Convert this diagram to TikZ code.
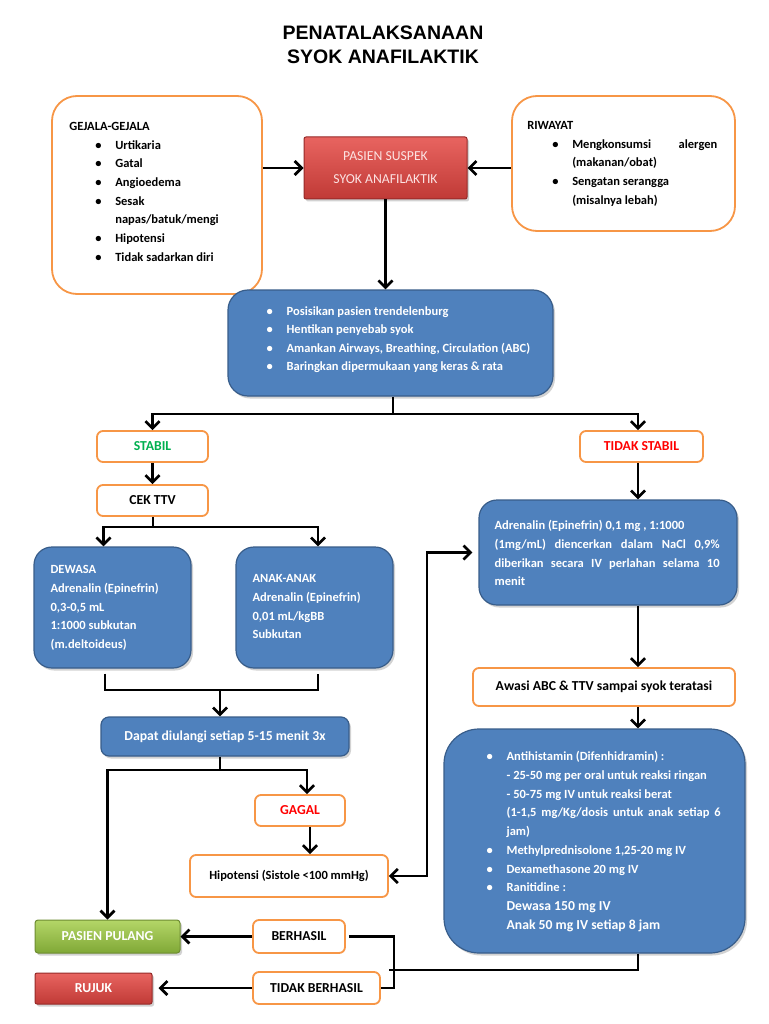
\documentclass[tikz,border=0pt]{standalone}
\usepackage{fontspec}
\setmainfont{Carlito}
\newfontfamily\headfont{Liberation Sans}
\usetikzlibrary{arrows.meta, positioning, calc, shadows}
\definecolor{orangeline}{RGB}{247,150,70}
\definecolor{bluefill}{RGB}{79,129,189}
\definecolor{blueline}{RGB}{56,93,138}
\definecolor{redtop}{RGB}{232,100,96}
\definecolor{redbot}{RGB}{192,58,54}
\definecolor{redline}{RGB}{150,42,40}
\definecolor{greentop}{RGB}{180,214,104}
\definecolor{greenbot}{RGB}{128,168,54}
\definecolor{greenline}{RGB}{110,140,50}
\definecolor{okgreen}{RGB}{0,176,80}
\definecolor{failred}{RGB}{255,0,0}
\definecolor{paletext}{RGB}{252,226,226}
\newcommand{\itm}{\makebox[20pt][l]{\textbullet}}

\begin{document}
\begin{tikzpicture}[x=1pt, y=-1pt,
    obox/.style={rectangle, rounded corners=6pt, draw=orangeline, line width=1.8pt, fill=white, inner sep=0pt, font=\fontsize{13.7}{16}\selectfont\bfseries},
    bbox/.style={rectangle, rounded corners=18pt, draw=blueline, line width=1.2pt, fill=bluefill, inner sep=0pt, drop shadow={shadow xshift=2pt, shadow yshift=-2.5pt, opacity=0.35}, text=white, font=\fontsize{13.7}{16}\selectfont\bfseries},
    rbox/.style={rectangle, rounded corners=2pt, draw=redline, line width=1pt, top color=redtop, bottom color=redbot, inner sep=0pt, drop shadow={shadow xshift=2pt, shadow yshift=-2.5pt, opacity=0.35}, text=paletext, font=\fontsize{13.7}{16}\selectfont},
    gbox/.style={rectangle, rounded corners=3pt, draw=greenline, line width=1pt, top color=greentop, bottom color=greenbot, inner sep=0pt, drop shadow={shadow xshift=2pt, shadow yshift=-2.5pt, opacity=0.35}, text=white, font=\fontsize{13.7}{16}\selectfont\bfseries},
    txt/.style={anchor=north west, inner sep=0pt, align=left, font=\fontsize{12.5}{18.7}\selectfont\bfseries},
    wtxt/.style={txt, text=white},
    lin/.style={line width=2.7pt},
    arr/.style={lin, -{Straight Barb[length=7pt, width=14pt]}},
    arrs/.style={lin, {Straight Barb[length=7pt, width=14pt]}-{Straight Barb[length=7pt, width=14pt]}},
    titletxt/.style={align=center, inner sep=0pt, font=\headfont\fontsize{19.5}{23.5}\selectfont\bfseries},
]
\fill[white] (0,0) rectangle (768,1024);
\useasboundingbox (0,0) rectangle (768,1024);

% Title
\node[titletxt] (title) at (383,44.6) {PENATALAKSANAAN\\SYOK ANAFILAKTIK};

% Gejala
\node[obox, rounded corners=25pt, minimum width=210pt, minimum height=198pt] (gejala) at (157,195) {};
\node[txt, below right=27pt and 18pt of gejala.north west] (gejalatxt) {GEJALA-GEJALA\\
  \hspace*{26pt}\itm Urtikaria\\
  \hspace*{26pt}\itm Gatal\\
  \hspace*{26pt}\itm Angioedema\\
  \hspace*{26pt}\itm Sesak\\
  \hspace*{46pt}napas/batuk/mengi\\
  \hspace*{26pt}\itm Hipotensi\\
  \hspace*{26pt}\itm Tidak sadarkan diri};

% Riwayat
\node[obox, rounded corners=25pt, minimum width=223pt, minimum height=135pt] (riwayat) at (623.5,163.5) {};
\node[txt, below right=26pt and 16pt of riwayat.north west] (riwayattxt) {RIWAYAT\\
  \hspace*{25pt}\itm\makebox[145pt][l]{Mengkonsumsi\hfill alergen}\\
  \hspace*{45pt}(makanan/obat)\\
  \hspace*{25pt}\itm Sengatan serangga\\
  \hspace*{45pt}(misalnya lebah)};

% Pasien suspek
\node[rbox, minimum width=163pt, minimum height=62pt, align=center, font=\fontsize{13.7}{23}\selectfont] (suspek) at (385.5,168) {PASIEN SUSPEK\\SYOK ANAFILAKTIK};
\draw[arr] (gejala.east |- suspek.west) -- (suspek.west);
\draw[arr] (riwayat.west |- suspek.east) -- (suspek.east);

% Tindakan awal
\node[bbox, rounded corners=20pt, minimum width=325pt, minimum height=106pt] (tindakan) at (390.5,343) {};
\node[wtxt, below right=17pt and 39pt of tindakan.north west, font=\fontsize{12.5}{18.4}\selectfont\bfseries] (tindakantxt) {\itm Posisikan pasien trendelenburg\\
  \itm Hentikan penyebab syok\\
  \itm Amankan Airways, Breathing, Circulation (ABC)\\
  \itm Baringkan dipermukaan yang keras \& rata};
\draw[arr] (suspek.south) -- (suspek.south |- tindakan.north);

% Stabil / tidak stabil
\coordinate (cabang1) at (393,414);
\coordinate (kanan) at (638,0);
\node[obox, minimum width=111pt, minimum height=31pt, text=okgreen] (stabil) at (152.5,446.5) {STABIL};
\node[obox, minimum width=123pt, minimum height=31pt, text=failred] (tdkstabil) at (641.5,446.5) {TIDAK STABIL};
\draw[lin] (tindakan.south -| cabang1) -- (cabang1);
\draw[arr] (cabang1) -| (stabil.north);
\draw[arr] (cabang1) -| (tdkstabil.north -| kanan);

% Cabang stabil
\node[obox, minimum width=111pt, minimum height=31pt] (cekttv) at (152.5,500.5) {CEK TTV};
\draw[arr] (stabil) -- (cekttv);
\coordinate (cabang2) at (153,527);
\draw[lin] (cekttv.south -| cabang2) -- (cabang2);
\node[bbox, minimum width=157pt, minimum height=121pt] (dewasa) at (112.5,607.5) {};
\node[wtxt, below right=19pt and 17pt of dewasa.north west] (dewasatxt) {DEWASA\\Adrenalin (Epinefrin)\\0,3-0,5 mL\\1:1000 subkutan\\(m.deltoideus)};
\node[bbox, minimum width=157pt, minimum height=121pt] (anak) at (314.5,607.5) {};
\node[wtxt, below right=28pt and 17pt of anak.north west] (anaktxt) {ANAK-ANAK\\Adrenalin (Epinefrin)\\0,01 mL/kgBB\\Subkutan};
\draw[arr] (cabang2) -| ([xshift=-9pt]dewasa.north);
\draw[arr] (cabang2) -| ([xshift=3.5pt]anak.north);

% Gabung ke ulang
\coordinate (gabung) at (220,690);
\draw[lin] ([xshift=-7.5pt,yshift=-5pt]dewasa.south) |- (gabung) -| ([xshift=3.5pt,yshift=-5pt]anak.south);
\node[bbox, rounded corners=8pt, minimum width=248pt, minimum height=39pt] (ulang) at (225,736.5) {Dapat diulangi setiap 5-15 menit 3x};
\draw[arr] (gabung) -- (gabung |- ulang.north);

\coordinate (cabang3) at (220,770);
\draw[lin] (ulang.south -| cabang3) -- (cabang3);
\node[obox, minimum width=90pt, minimum height=31pt, text=failred] (gagal) at (300,810.5) {GAGAL};
\draw[arr] (cabang3) -| ([xshift=7pt]gagal.north);
\node[obox, minimum width=198pt, minimum height=42pt, font=\fontsize{12.5}{15}\selectfont\bfseries] (hipotensi) at (289,876) {Hipotensi (Sistole <100 mmHg)};
\draw[arr] ([xshift=10pt]gagal.south) -- ([xshift=10pt]gagal.south |- hipotensi.north);

% Hasil
\node[gbox, minimum width=145pt, minimum height=33pt] (pulang) at (107.5,936.5) {PASIEN PULANG};
\draw[arr] (cabang3) -| (pulang.north);
\node[obox, minimum width=92pt, minimum height=33pt] (berhasil) at (299,936.5) {BERHASIL};
\node[rbox, minimum width=117pt, minimum height=31pt, text=white, font=\fontsize{13.7}{16}\selectfont\bfseries] (rujuk) at (93.5,988.5) {RUJUK};
\node[obox, minimum width=127pt, minimum height=32pt] (tdkberhasil) at (316.5,988) {TIDAK BERHASIL};
\draw[arr] (berhasil) -- (pulang);
\draw[arr, shorten >=6pt] (tdkberhasil.west) -- (rujuk.east |- tdkberhasil.west);

% Cabang tidak stabil
\node[bbox, minimum width=258pt, minimum height=105pt] (adrenalin) at (608,552.5) {};
\node[wtxt, below right=21pt and 16pt of adrenalin.north west] (adrenalintxt) {Adrenalin (Epinefrin) 0,1 mg , 1:1000\\
  \makebox[225pt][s]{(1mg/mL) diencerkan dalam NaCl 0,9\%}\\
  \makebox[225pt][s]{diberikan secara IV perlahan selama 10}\\
  menit};
\draw[arr] (tdkstabil.south -| kanan) -- (adrenalin.north -| kanan);
\draw[arrs, shorten >=6pt] (hipotensi.east) -- ++(38,0) |- (adrenalin.west);

\node[obox, minimum width=262pt, minimum height=38pt] (awasi) at (604,687) {Awasi ABC \& TTV sampai syok teratasi};
\draw[arr] (adrenalin.south -| kanan) -- (awasi.north -| kanan);

\node[bbox, rounded corners=35pt, minimum width=301pt, minimum height=224pt] (obat) at (594.5,841) {};
\node[wtxt, below right=23pt and 43pt of obat.north west] (obattxt) {\itm Antihistamin (Difenhidramin) :\\
  \hspace*{20pt}- 25-50 mg per oral untuk reaksi ringan\\
  \hspace*{20pt}- 50-75 mg IV untuk reaksi berat\\
  \hspace*{20pt}\makebox[214pt][s]{(1-1,5 mg/Kg/dosis untuk anak setiap 6}\\
  \hspace*{20pt}jam)\\
  \itm Methylprednisolone 1,25-20 mg IV\\
  \itm Dexamethasone 20 mg IV\\
  \itm Ranitidine :\\
  \hspace*{20pt}{\fontsize{13.7}{18.7}\selectfont Dewasa 150 mg IV}\\
  \hspace*{20pt}{\fontsize{13.7}{18.7}\selectfont Anak 50 mg IV setiap 8 jam}};
\draw[arr] (awasi.south -| kanan) -- (obat.north -| kanan);

% Gabung hasil
\draw[lin] (berhasil.east) ++(3,0) -- ++(45,0) |- (tdkberhasil.east);
\coordinate (gabung2) at (389,970);
\draw[lin] (obat.south -| kanan) |- (gabung2);

\end{tikzpicture}
\end{document}
